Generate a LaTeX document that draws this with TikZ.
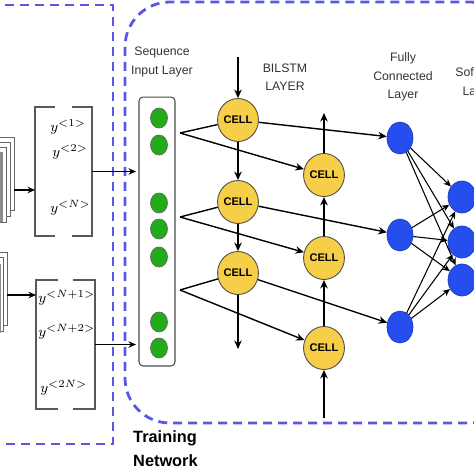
\documentclass[tikz,border=0pt]{standalone}
\usepackage{fontspec}
\setmainfont{Liberation Sans}
\usetikzlibrary{arrows.meta,shapes.geometric}
\definecolor{dashblue}{RGB}{88,88,228}
\definecolor{cellyellow}{RGB}{247,206,72}
\definecolor{neurgreen}{RGB}{34,172,26}
\definecolor{neurblue}{RGB}{38,78,238}
\begin{document}
\begin{tikzpicture}[x=0.02cm,y=-0.02cm,
  >={Stealth[length=1.7mm,width=1.5mm]},
  conn/.style={->,line width=0.8pt},
  thinconn/.style={->,line width=0.6pt,>={Stealth[length=1.5mm,width=1.3mm]}},
  region/.style={dashblue,line width=1.6pt,dash pattern=on 1.8mm off 1.2mm},
  bracket/.style={draw=black!65,line width=0.6pt},
  frame/.style={draw=black!60,fill=white,line width=0.5pt},
  cell/.style={ellipse,draw=black!70,fill=cellyellow,line width=0.5pt,minimum width=7mm,minimum height=8.6mm,inner sep=0pt,font=\fontsize{6.3}{7}\selectfont\bfseries},
  seqdot/.style={ellipse,draw=black!60,fill=neurgreen,minimum width=3.4mm,minimum height=4mm,inner sep=0pt},
  fcdot/.style={ellipse,draw=neurblue!80!black,fill=neurblue,minimum width=5.2mm,minimum height=6.4mm,inner sep=0pt},
  smdot/.style={fcdot,minimum width=5.6mm},
  lbl/.style={align=center,font=\fontsize{7}{10.5}\selectfont,text=black!80},
  seqval/.style={anchor=west,inner sep=0pt,font=\fontsize{8.5}{10}\selectfont}]
\useasboundingbox (0,0) rectangle (474,474);
\clip (0,0) rectangle (474,474);

\draw[region] (-10,5) -- (113,5) -- (113,444) -- (-10,444);
\draw[region,rounded corners=9mm] (125,2) rectangle (515,423);

\foreach \i in {0,1,2}
  \draw[frame] (-10,137+5*\i) rectangle (14-4*\i,210+6*\i);
\fill[black!45] (-10,152) rectangle (3,222);
\foreach \i in {0,1}
  \draw[frame] (-10,252+5*\i) rectangle (7-4*\i,325+6*\i);
\fill[black!45] (-10,264) rectangle (1,333);
\coordinate (stackA) at (14,190);
\coordinate (stackB) at (7,295);

\node[minimum width=11.4mm,minimum height=25.8mm,outer sep=0pt] (ytop) at (63.5,171.5) {};
\node[minimum width=11.8mm,minimum height=25.8mm,outer sep=0pt] (ybot) at (65.5,344.5) {};
\draw[bracket] ([xshift=4mm]ytop.north west) -- (ytop.north west) -- (ytop.south west) -- ++(4mm,0);
\draw[bracket] ([xshift=-4mm]ytop.north east) -- (ytop.north east) -- (ytop.south east) -- ++(-4mm,0);
\draw[bracket] ([xshift=4.4mm]ybot.north west) -- (ybot.north west) -- (ybot.south west) -- ++(4.4mm,0);
\draw[bracket] ([xshift=-4.4mm]ybot.north east) -- (ybot.north east) -- (ybot.south east) -- ++(-4.4mm,0);
\node[seqval] (y1) at (50,127) {$y^{<1>}$};
\node[seqval] (y2) at (52,152) {$y^{<2>}$};
\node[seqval] (yN) at (50,208) {$y^{<N>}$};
\node[seqval] (yN1) at (38,298) {$y^{<N+1>}$};
\node[seqval] (yN2) at (38,332) {$y^{<N+2>}$};
\node[seqval] (y2N) at (40,388) {$y^{<2N>}$};

\node[draw=black!70,line width=0.6pt,rounded corners=0.8mm,minimum width=7.2mm,minimum height=53.8mm,outer sep=0pt] (seq) at (157,231.5) {};
\foreach \n/\y in {1/118,2/145,3/203,4/229,5/257,6/322,7/348}
  \node[seqdot] (g\n) at (159,\y) {};

\draw[thinconn] (stackA) -- (stackA -| ytop.west);
\draw[thinconn] (stackB) -- (stackB -| ybot.west);
\draw[thinconn] (ytop.east) -- ([xshift=-0.6mm]ytop.east -| seq.west);
\draw[thinconn] (ybot.east) -- ([xshift=-0.6mm]ybot.east -| seq.west);

\node[lbl] (seqlbl) at (162,62) {Sequence\\Input Layer};
\node[lbl] (bilstmlbl) at (285,77) {BILSTM\\LAYER};
\node[lbl] (fclbl) at (403,77) {Fully\\Connected\\Layer};
\node[lbl] (smlbl) at (478,83) {Softmax\\Layer};
\node[anchor=west,align=left,font=\fontsize{9.3}{13.5}\selectfont\bfseries] (trainlbl) at (127,449) {Training\\Network};

\node[cell] (c1) at (238,120) {CELL};
\node[cell] (c2) at (238,202) {CELL};
\node[cell] (c3) at (238,273) {CELL};
\node[cell] (r1) at (324,175) {CELL};
\node[cell] (r2) at (324,258) {CELL};
\node[cell] (r3) at (324,348) {CELL};

\coordinate (v1) at (180,133);
\coordinate (v2) at (180,217);
\coordinate (v3) at (180,290);
\draw[line width=0.8pt] (c1) -- (v1);
\draw[conn] (v1) -- (r1);
\draw[line width=0.8pt] (c2) -- (v2);
\draw[conn] (v2) -- (r2);
\draw[line width=0.8pt] (c3) -- (v3);
\draw[conn] (v3) -- (r3);

\coordinate (inTop) at (238,57);
\coordinate (outBot) at (238,349);
\coordinate (inBot) at (324,418);
\coordinate (outTop) at (324,113);
\draw[conn] (inTop) -- (c1);
\draw[conn] (c1) -- (c2);
\draw[conn] (c2) -- (c3);
\draw[conn] (c3) -- (outBot);
\draw[conn] (inBot) -- (r3);
\draw[conn] (r3) -- (r2);
\draw[conn] (r2) -- (r1);
\draw[conn] (r1) -- (outTop);

\foreach \n/\y in {1/138,2/235,3/327}
  \node[fcdot] (f\n) at (400,\y) {};
\foreach \n/\y in {1/197,2/242,3/280}
  \node[smdot] (s\n) at (462,\y) {};
\draw[conn] (c1) -- (f1);
\draw[conn] (c2) -- (f2);
\draw[conn] (c3) -- (f3);
\foreach \a in {1,2,3}
  \foreach \b in {1,2,3}
    \draw[thinconn] (f\a) -- (s\b);
\end{tikzpicture}
\end{document}
